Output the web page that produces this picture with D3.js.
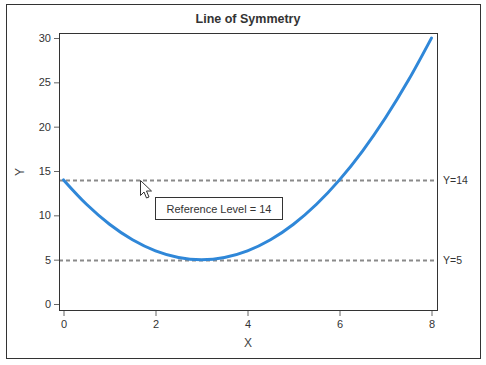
<!DOCTYPE html>
<html>
<head>
<meta charset="utf-8">
<script src="https://cdn.jsdelivr.net/npm/d3@7"></script>
<style>
    body { margin: 0; background: #fff; font-family: "Liberation Sans", Arial, sans-serif; }
    .axis text { font-size: 11px; fill: #333; }
    .axis path, .axis line { stroke: #666; }
</style>
</head>
<body>
<svg id="chart" width="486" height="365"></svg>
<script>
// curve points
const xValues = [0, 0.5, 1, 1.5, 2, 2.5, 3, 3.5, 4, 4.5, 5, 5.5, 6, 6.5, 7, 7.5, 8];
const yValues = [14, 11.25, 9, 7.25, 6, 5.25, 5, 5.25, 6, 7.25, 9, 11.25, 14, 17.25, 21, 25.25, 30];
const refLevels = [14, 5];
const refLabels = ['Y=14', 'Y=5'];
const xTicks = [0, 2, 4, 6, 8];
const yTicks = [0, 5, 10, 15, 20, 25, 30];
const tipText = 'Reference Level = 14';

const svg = d3.select('#chart');
const plotLeft = 59, plotRight = 438, plotTop = 33, plotBottom = 311;

// outer frame
svg.append('rect')
    .attr('x', 6.5).attr('y', 4.5)
    .attr('width', 474).attr('height', 354)
    .attr('fill', 'none').attr('stroke', '#333').attr('stroke-width', 1);

svg.append('text')
    .attr('x', 248).attr('y', 23)
    .attr('text-anchor', 'middle')
    .attr('font-size', 12.5).attr('font-weight', 'bold').attr('fill', '#333')
    .text('Line of Symmetry');

var xScale = d3.scaleLinear().domain([0, 8]).range([63.5, 431.5]);
var yScale = d3.scaleLinear().domain([0, 30]).range([304, 38]);

var xAxis = d3.axisBottom(xScale).tickValues(xTicks).tickSize(5).tickPadding(4);
svg.append('g')
    .attr('class', 'axis')
    .attr('transform', `translate(0, ${plotBottom})`)
    .call(xAxis)
    .call(g => g.select('.domain').remove());

var yAxis = d3.axisLeft(yScale).tickValues(yTicks).tickSize(5).tickPadding(3);
svg.append('g')
    .attr('class', 'axis')
    .attr('transform', `translate(${plotLeft}, 0)`)
    .call(yAxis)
    .call(g => g.select('.domain').remove());

svg.append('text')
    .attr('x', 248).attr('y', 347)
    .attr('text-anchor', 'middle').attr('font-size', 12).attr('fill', '#444')
    .text('X');

svg.append('text')
    .attr('transform', 'translate(24, 172) rotate(-90)')
    .attr('text-anchor', 'middle').attr('font-size', 12).attr('fill', '#444')
    .text('Y');

// reference lines
svg.selectAll('.ref')
    .data(refLevels)
    .enter()
    .append('line')
    .attr('class', 'ref')
    .attr('x1', plotLeft).attr('x2', plotRight)
    .attr('y1', d => Math.round(yScale(d)) + 0.5)
    .attr('y2', d => Math.round(yScale(d)) + 0.5)
    .attr('stroke', '#8a8a8a').attr('stroke-width', 2)
    .attr('stroke-dasharray', '4,3');

svg.selectAll('.reflabel')
    .data(refLevels)
    .enter()
    .append('text')
    .attr('x', plotRight + 5)
    .attr('y', d => yScale(d) + 4)
    .attr('font-size', 10.5).attr('fill', '#333')
    .text((d, i) => refLabels[i]);

// curve
var line = d3.line()
    .x(d => xScale(d[0]))
    .y(d => yScale(d[1]))
    .curve(d3.curveMonotoneX);

svg.append('path')
    .datum(xValues.map((x, i) => [x, yValues[i]]))
    .attr('d', line)
    .attr('fill', 'none')
    .attr('stroke', '#2f87d8')
    .attr('stroke-width', 3)
    .attr('stroke-linecap', 'round');

// plot frame
svg.append('rect')
    .attr('x', plotLeft + 0.5).attr('y', plotTop + 0.5)
    .attr('width', plotRight - plotLeft - 1).attr('height', plotBottom - plotTop - 1)
    .attr('fill', 'none').attr('stroke', '#333');

// tooltip
var tip = svg.append('g').attr('transform', 'translate(155.5, 197.5)');
tip.append('rect')
    .attr('width', 127).attr('height', 22)
    .attr('fill', '#fff').attr('stroke', '#333');
tip.append('text')
    .attr('x', 63.5).attr('y', 15)
    .attr('text-anchor', 'middle').attr('font-size', 11).attr('fill', '#333')
    .text(tipText);

// mouse pointer
svg.append('path')
    .attr('d', 'M140.5,180.5 L140.5,195.5 L144,192 L146.5,198 L149,197 L146.5,191 L151.5,191 Z')
    .attr('fill', '#fff').attr('stroke', '#333').attr('stroke-width', 1);
</script>
</body>
</html>
